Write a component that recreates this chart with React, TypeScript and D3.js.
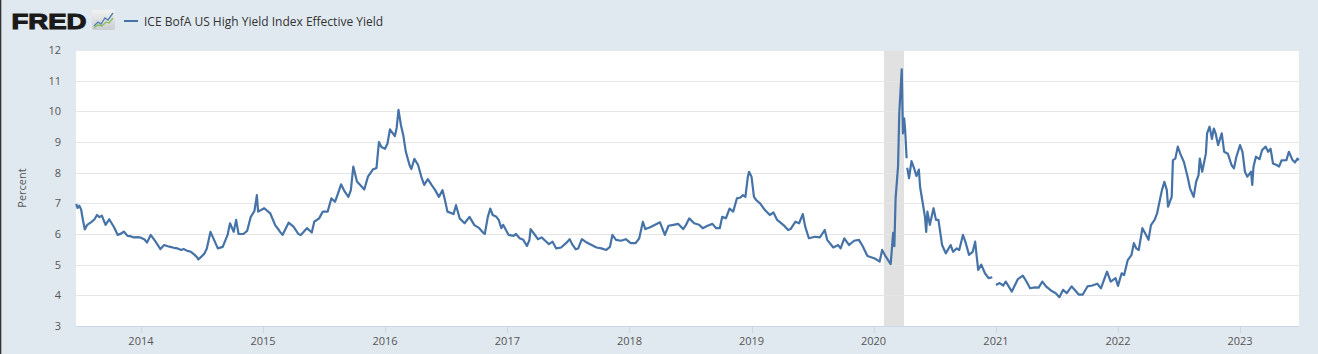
import React from "react";
import * as d3 from "d3";

// Decimal-year time stamps and ICE BofA US High Yield effective yield (%)
const times: number[] = [
  2013.47, 2013.48, 2013.495, 2013.51, 2013.525, 2013.54, 2013.56, 2013.59, 2013.62, 2013.64, 2013.66, 2013.68,
  2013.71, 2013.74, 2013.76, 2013.78, 2013.81, 2013.84, 2013.86, 2013.89, 2013.92, 2013.94, 2013.97,
  2014.0, 2014.03, 2014.05, 2014.08, 2014.12, 2014.16, 2014.19, 2014.22, 2014.24, 2014.27, 2014.3, 2014.33,
  2014.35, 2014.38, 2014.41, 2014.44, 2014.46, 2014.47, 2014.5, 2014.52, 2014.54, 2014.57, 2014.6, 2014.63,
  2014.67, 2014.71, 2014.73, 2014.76, 2014.78, 2014.8, 2014.84, 2014.87, 2014.9, 2014.93, 2014.95, 2014.96,
  2015.01, 2015.06, 2015.1, 2015.13, 2015.14, 2015.16, 2015.21, 2015.25, 2015.29, 2015.31, 2015.36, 2015.4,
  2015.42, 2015.46, 2015.49, 2015.53, 2015.56, 2015.59, 2015.61, 2015.64, 2015.67, 2015.7, 2015.72, 2015.74,
  2015.77, 2015.81, 2015.83, 2015.86, 2015.9, 2015.93, 2015.95, 2015.97,
  2016.0, 2016.02, 2016.04, 2016.08, 2016.095, 2016.11, 2016.13, 2016.15, 2016.17, 2016.2, 2016.215, 2016.24,
  2016.27, 2016.3, 2016.32, 2016.35, 2016.38, 2016.41, 2016.44, 2016.47, 2016.49, 2016.51, 2016.56, 2016.58,
  2016.61, 2016.65, 2016.69, 2016.73, 2016.77, 2016.8, 2016.815, 2016.84, 2016.86, 2016.88, 2016.91, 2016.93,
  2016.95, 2016.965,
  2017.01, 2017.05, 2017.07, 2017.1, 2017.13, 2017.16, 2017.18, 2017.19, 2017.22, 2017.25, 2017.28, 2017.31,
  2017.34, 2017.37, 2017.4, 2017.44, 2017.48, 2017.51, 2017.53, 2017.56, 2017.58, 2017.61, 2017.65, 2017.69,
  2017.73, 2017.77, 2017.81, 2017.84, 2017.86, 2017.89, 2017.93, 2017.97,
  2018.01, 2018.05, 2018.08, 2018.11, 2018.13, 2018.17, 2018.21, 2018.25, 2018.29, 2018.32, 2018.36, 2018.4,
  2018.44, 2018.46, 2018.49, 2018.53, 2018.57, 2018.6, 2018.64, 2018.68, 2018.71, 2018.74, 2018.76, 2018.79,
  2018.82, 2018.85, 2018.88, 2018.91, 2018.93, 2018.95, 2018.97, 2018.98,
  2019.0, 2019.02, 2019.04, 2019.07, 2019.11, 2019.15, 2019.18, 2019.21, 2019.26, 2019.3, 2019.32, 2019.36,
  2019.39, 2019.42, 2019.44, 2019.47, 2019.52, 2019.56, 2019.6, 2019.62, 2019.67, 2019.71, 2019.73, 2019.76,
  2019.8, 2019.84, 2019.88, 2019.91, 2019.95,
  2020.01, 2020.05, 2020.07, 2020.1, 2020.14, 2020.16, 2020.17, 2020.18, 2020.2, 2020.21, 2020.23, 2020.24,
  2020.25, 2020.258, 2020.27, 2020.272, 2020.275, 2020.29, 2020.31, 2020.33, 2020.35, 2020.37, 2020.38, 2020.4,
  2020.42, 2020.43, 2020.44, 2020.46, 2020.49, 2020.51, 2020.53, 2020.56, 2020.59, 2020.63, 2020.65, 2020.68,
  2020.7, 2020.73, 2020.75, 2020.78, 2020.81, 2020.83, 2020.84, 2020.855, 2020.88, 2020.91, 2020.94, 2020.97,
  2020.985,
  2021.0, 2021.03, 2021.06, 2021.08, 2021.13, 2021.15, 2021.18, 2021.22, 2021.25, 2021.28, 2021.32, 2021.35,
  2021.38, 2021.41, 2021.45, 2021.49, 2021.52, 2021.55, 2021.58, 2021.62, 2021.65, 2021.68, 2021.71, 2021.75,
  2021.79, 2021.83, 2021.86, 2021.91, 2021.94, 2021.98,
  2022.0, 2022.03, 2022.05, 2022.08, 2022.11, 2022.13, 2022.15, 2022.17, 2022.2, 2022.23, 2022.25, 2022.27,
  2022.3, 2022.32, 2022.34, 2022.36, 2022.38, 2022.4, 2022.41, 2022.44, 2022.45, 2022.47, 2022.49, 2022.51,
  2022.54, 2022.57, 2022.59, 2022.62, 2022.64, 2022.66, 2022.67, 2022.69, 2022.72, 2022.73, 2022.75, 2022.77,
  2022.785, 2022.8, 2022.82, 2022.85, 2022.87, 2022.9, 2022.93, 2022.95, 2022.97,
  2023.0, 2023.02, 2023.04, 2023.06, 2023.09, 2023.1, 2023.11, 2023.13, 2023.16, 2023.18, 2023.21, 2023.23,
  2023.25, 2023.27, 2023.3, 2023.32, 2023.34, 2023.38, 2023.4, 2023.43, 2023.45, 2023.47, 2023.48,
];

const yields: (number | null)[] = [
  6.98, 6.85, 6.92, 6.8, 6.45, 6.15, 6.3, 6.38, 6.48, 6.62, 6.55, 6.6,
  6.3, 6.48, 6.35, 6.22, 5.97, 6.02, 6.08, 5.94, 5.92, 5.89, 5.9,
  5.88, 5.82, 5.72, 5.97, 5.75, 5.51, 5.64, 5.6, 5.58, 5.55, 5.53, 5.48,
  5.51, 5.45, 5.42, 5.32, 5.24, 5.17, 5.28, 5.36, 5.53, 6.07, 5.8, 5.53,
  5.58, 5.97, 6.35, 6.07, 6.46, 6.0, 6.0, 6.1, 6.56, 6.75, 7.27, 6.73,
  6.84, 6.67, 6.29, 6.13, 6.07, 5.97, 6.37, 6.24, 6.0, 5.97, 6.19, 6.05,
  6.4, 6.51, 6.73, 6.73, 7.16, 7.05, 7.27, 7.62, 7.38, 7.21, 7.43, 8.2,
  7.71, 7.54, 7.45, 7.87, 8.1, 8.15, 9.0, 8.84,
  8.78, 8.95, 9.41, 9.19, 9.46, 10.05, 9.55, 9.2, 8.68, 8.25, 8.12, 8.45,
  8.25, 7.82, 7.6, 7.79, 7.6, 7.43, 7.21, 7.43, 7.1, 6.73, 6.65, 6.94,
  6.51, 6.35, 6.56, 6.29, 6.19, 6.05, 6.0, 6.56, 6.83, 6.62, 6.56, 6.45,
  6.19, 6.3,
  5.97, 5.94, 6.0, 5.86, 5.81, 5.61, 5.8, 6.16, 6.0, 5.83, 5.89, 5.78,
  5.67, 5.75, 5.53, 5.56, 5.7, 5.83, 5.67, 5.5, 5.53, 5.83, 5.72, 5.64,
  5.56, 5.53, 5.48, 5.58, 5.97, 5.81, 5.78, 5.83,
  5.7, 5.7, 5.86, 6.4, 6.16, 6.22, 6.3, 6.38, 5.97, 6.27, 6.3, 6.33,
  6.16, 6.27, 6.51, 6.35, 6.3, 6.19, 6.27, 6.33, 6.19, 6.19, 6.56, 6.51,
  6.83, 6.73, 7.16, 7.19, 7.27, 7.21, 7.87, 8.03,
  7.87, 7.21, 7.1, 7.0, 6.78, 6.62, 6.7, 6.46, 6.3, 6.13, 6.16, 6.4,
  6.35, 6.65, 6.24, 5.86, 5.91, 5.89, 6.13, 5.81, 5.56, 5.64, 5.53, 5.86,
  5.64, 5.78, 5.81, 5.61, 5.28,
  5.2, 5.1, 5.48, 5.26, 5.02, 6.04, 5.6, 7.16, 8.2, 9.93, 11.37, 9.28,
  9.77, 9.4, 8.47, null, 8.16, 7.82, 8.38, 8.16, 7.89, 8.1, 7.54, 7.05,
  6.56, 6.07, 6.73, 6.3, 6.84, 6.46, 6.46, 5.64, 5.37, 5.64, 5.42, 5.53,
  5.48, 5.97, 5.75, 5.32, 5.42, 5.75, 5.37, 4.83, 5.0, 4.72, 4.56, 4.59,
  null,
  4.34, 4.4, 4.32, 4.45, 4.12, 4.29, 4.53, 4.64, 4.45, 4.23, 4.26, 4.25,
  4.45, 4.29, 4.16, 4.07, 3.94, 4.18, 4.07, 4.29, 4.16, 4.02, 4.02, 4.29,
  4.32, 4.38, 4.23, 4.77, 4.45, 4.56,
  4.31, 4.72, 4.66, 5.15, 5.31, 5.7, 5.53, 5.48, 6.19, 5.97, 5.81, 6.29,
  6.46, 6.67, 7.05, 7.43, 7.7, 7.43, 6.89, 7.21, 8.41, 8.46, 8.85, 8.62,
  8.35, 7.87, 7.49, 7.21, 7.7, 7.92, 8.46, 8.03, 8.62, 9.28, 9.5, 9.1,
  9.44, 9.28, 8.9, 9.28, 8.68, 8.62, 8.25, 8.14, 8.52,
  8.9, 8.68, 8.03, 7.87, 8.03, 7.6, 8.19, 8.52, 8.44, 8.73, 8.85, 8.68,
  8.78, 8.3, 8.25, 8.2, 8.4, 8.41, 8.68, 8.41, 8.33, 8.46, 8.4,
];

const yTickValues: number[] = [3, 4, 5, 6, 7, 8, 9, 10, 11, 12];
const recessionStart = "2020-02-01";
const recessionEnd = "2020-04-01";
const seriesTitle = "ICE BofA US High Yield Index Effective Yield";
const yAxisTitle = "Percent";

function toDate(t: number): Date {
  const yr = Math.floor(t);
  const a = Date.UTC(yr, 0, 1);
  const b = Date.UTC(yr + 1, 0, 1);
  return new Date(a + (t - yr) * (b - a));
}

const W = 1318;
const H = 354;
const left = 76;
const right = 1299;
const top = 50;
const bottom = 326;
const FONT = "'Open Sans', 'DejaVu Sans', sans-serif";

export default function App() {
  const x = d3.scaleUtc().domain([toDate(2013.468), toDate(2023.483)]).range([left, right]);
  const y = d3.scaleLinear().domain([3, 12]).range([bottom, top]);
  const data = times.map((t, i) => ({ d: toDate(t), v: yields[i] }));
  const line = d3
    .line<{ d: Date; v: number | null }>()
    .defined((p) => p.v !== null)
    .x((p) => x(p.d))
    .y((p) => y(p.v as number));
  const xTicks = x.ticks(d3.utcYear.every(1) as any);
  const fmt = d3.utcFormat("%Y");
  const rs = x(new Date(recessionStart));
  const re = x(new Date(recessionEnd));

  return (
    <svg
      width={W}
      height={H}
      style={{ position: "absolute", left: 0, top: 0, display: "block" }}
      fontFamily={FONT}
    >
      <rect x={0} y={0} width={W} height={H} fill="#e1e9f0" />
      <rect x={0} y={0} width={1.3} height={H} fill="#333" />
      {/* header logo */}
      <text
        x={11.5}
        y={28.5}
        fontFamily="'Liberation Sans', Arial, sans-serif"
        fontWeight="bold"
        fontSize={22}
        fill="#1a1a1a"
        stroke="#1a1a1a"
        strokeWidth={1.1}
        textLength={75}
        lengthAdjust="spacingAndGlyphs"
      >
        FRED
      </text>
      <defs>
        <linearGradient id="icoG" x1="0" y1="0" x2="0" y2="1">
          <stop offset="0" stopColor="#f2f2f2" />
          <stop offset="1" stopColor="#c9cdd1" />
        </linearGradient>
      </defs>
      <rect x={92} y={10} width={23} height={20} rx={2} fill="url(#icoG)" />
      <polyline points="94,26 98,22 101,24 105,18 108,20 113,13" fill="none" stroke="#4f7db3" strokeWidth={1.3} />
      <polyline points="94,28 98,25 102,26 106,22 109,23 113,18" fill="none" stroke="#8cbf5a" strokeWidth={1.3} />
      {/* legend */}
      <line x1={124} x2={138} y1={21} y2={21} stroke="#4572a7" strokeWidth={2} />
      <text x={144} y={25.5} fontSize={12} fill="#333">
        {seriesTitle}
      </text>
      {/* plot background */}
      <rect x={left} y={top} width={right - left} height={bottom - top} fill="#ffffff" />
      <rect x={rs} y={top} width={re - rs} height={bottom - top} fill="#e1e1e1" />
      {yTickValues.slice(1).map((v) => (
        <line key={v} x1={left} x2={right} y1={Math.round(y(v)) + 0.5} y2={Math.round(y(v)) + 0.5} stroke="#e6e6e6" strokeWidth={1} />
      ))}
      {yTickValues.map((v) => (
        <text key={"l" + v} x={61} y={y(v) + 4} fontSize={11} fill="#555" textAnchor="end">
          {v}
        </text>
      ))}
      <text
        transform={`translate(26,${(top + bottom) / 2}) rotate(-90)`}
        fontSize={11}
        fill="#555"
        textAnchor="middle"
      >
        {yAxisTitle}
      </text>
      {/* x axis */}
      <line x1={left} x2={right} y1={bottom + 0.5} y2={bottom + 0.5} stroke="#ccd6eb" strokeWidth={1} />
      {xTicks.map((d) => (
        <g key={d.toISOString()}>
          <line x1={Math.round(x(d)) + 0.5} x2={Math.round(x(d)) + 0.5} y1={bottom} y2={bottom + 7} stroke="#ccd6eb" />
          <text x={x(d)} y={bottom + 19} fontSize={11} fill="#555" textAnchor="middle">
            {fmt(d)}
          </text>
        </g>
      ))}
      <path d={line(data) || ""} fill="none" stroke="#4572a7" strokeWidth={2.2} strokeLinejoin="round" />
    </svg>
  );
}
